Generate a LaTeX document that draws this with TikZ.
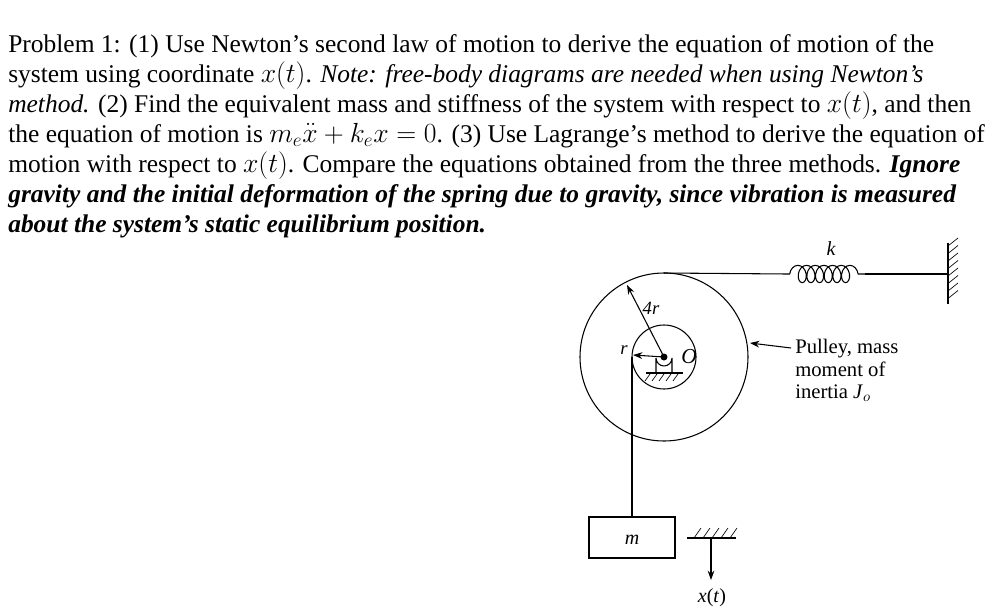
\documentclass[tikz,border=0pt]{standalone}
\usepackage{fontspec}
\setmainfont{Liberation Serif}
\usetikzlibrary{decorations.pathmorphing,patterns,arrows.meta}
\begin{document}
\begin{tikzpicture}[x=0.75pt,y=-0.75pt,
  ln/.style={line width=0.8pt},
  txt/.style={anchor=base west,inner sep=0,font=\fontsize{19.1}{20}\selectfont},
  lbl/.style={inner sep=0,font=\fontsize{13}{15}\selectfont},
  arr/.style={ln,-{Stealth[length=7pt,width=5pt]}}]
\useasboundingbox (0,0) rectangle (993,614);
\node[txt] (l1) at (8,52) {Problem 1: (1) Use Newton’s second law of motion to derive the equation of motion of the};
\node[txt] (l2) at (8,82) {system using coordinate $x(t)$. \textit{Note: free-body diagrams are needed when using Newton’s}};
\node[txt] (l3) at (8,112) {\textit{method.} (2) Find the equivalent mass and stiffness of the system with respect to $x(t)$, and then};
\node[txt] (l4) at (8,142) {the equation of motion is $m_e\ddot{x}+k_e x=0$. (3) Use Lagrange’s method to derive the equation of};
\node[txt] (l5) at (8,172) {motion with respect to $x(t)$. Compare the equations obtained from the three methods. \textbf{\textit{Ignore}}};
\node[txt] (l6) at (8,202) {\textbf{\textit{gravity and the initial deformation of the spring due to gravity, since vibration is measured}}};
\node[txt] (l7) at (8,232) {\textbf{\textit{about the system’s static equilibrium position.}}};
% pulley
\coordinate (O) at (664,357);
\draw[ln] (O) circle (84);
\draw[ln] (O) circle (32);
\fill (O) circle (3.5);
\draw[ln] (656,373) -- (656,358) arc (180:0:8) -- (672,373);
\draw[ln] (646,373) -- (683,373);
\foreach \i in {0,...,4} \draw[line width=0.5pt] (650+7*\i,374) -- (645+7*\i,381);
\node[lbl,font=\fontsize{16}{16}\selectfont\itshape] (Ol) at (689,357) {O};
\draw[arr] (O) -- (627,285);
\node[lbl,font=\fontsize{14}{15}\selectfont\itshape] (l4r) at (651,308) {4\textit{r}};
\draw[arr] (O) -- (633,355);
\node[lbl,font=\fontsize{14}{15}\selectfont\itshape] (lr) at (624,350) {r};
% rope to mass
\node[draw,ln,minimum width=64.5pt,minimum height=30.75pt,inner sep=0] (m) at (632,537.5) {};
\node[lbl,font=\fontsize{15}{15}\selectfont\itshape] (ml) at (632,540) {m};
\draw[ln] (632,357) -- (m.north);
% top rope and spring
\coordinate (s1) at (787,274);
\coordinate (s2) at (865,274);
\coordinate (w) at (948,274);
\draw[ln] (664,273) -- (s1);
\draw[ln,decorate,decoration={coil,aspect=0.7,segment length=6.5pt,amplitude=6.5pt,pre length=2pt,post length=2pt}] (s1) -- (s2);
\draw[ln] (s2) -- (w);
\node[lbl,font=\fontsize{15}{15}\selectfont\itshape] (k) at (831,249) {k};
\draw[ln] (948,243) -- (948,304);
\foreach \i in {0,...,7} \draw[line width=0.5pt] (948,246+7.5*\i) -- (958,238+7.5*\i);
% pulley label
\draw[arr] (791,348) -- (750,343);
\node[anchor=north west,inner sep=0,align=left,font=\fontsize{15.5}{17}\selectfont] (pl) at (795,339) {Pulley, mass\\moment of\\inertia \textit{J}$_o$};
% ground and x(t)
\draw[ln] (687,538) -- (736,538);
\foreach \i in {0,...,4} \draw[line width=0.5pt] (694+9*\i,538) -- (701+9*\i,528);
\coordinate (g) at (711,538);
\coordinate (ge) at (711,580);
\draw[arr] (g) -- (ge);
\node[lbl,font=\fontsize{15}{15}\selectfont] (xt) at (712,598) {\textit{x}(\textit{t})};
\end{tikzpicture}
\end{document}
